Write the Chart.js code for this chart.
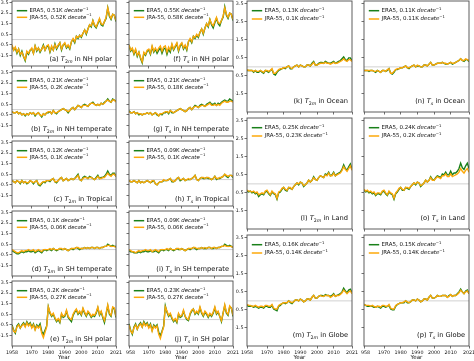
<!DOCTYPE html>
<html>
<head>
<meta charset="utf-8">
<script src="https://cdn.jsdelivr.net/npm/chart.js@4"></script>
<style>
  html, body { margin: 0; padding: 0; background: #fff; }
  #fig { position: relative; width: 474px; height: 361px; overflow: hidden; }
  #fig canvas { position: absolute; }
</style>
</head>
<body>
<div id="fig"></div>
<script>
// years of the annual anomaly series
const YEARS = [1958,1959,1960,1961,1962,1963,1964,1965,1966,1967,1968,1969,
  1970,1971,1972,1973,1974,1975,1976,1977,1978,1979,1980,1981,1982,1983,1984,1985,1986,1987,1988,1989,
  1990,1991,1992,1993,1994,1995,1996,1997,1998,1999,2000,2001,2002,2003,2004,2005,2006,2007,2008,2009,
  2010,2011,2012,2013,2014,2015,2016,2017,2018,2019,2020,2021];
const X_TICKS = [1958, 1970, 1980, 1990, 2000, 2010, 2021];
const Y_TICKS = [-1.5, -0.5, 0.5, 1.5, 2.5, 3.5];
const Y_TICK_LABELS = ['\u22121.5', '\u22120.5', '0.5', '1.5', '2.5', '3.5'];

// (a) T2m NH polar
const era5_a = [-0.6,-1.0,
  -0.8,-1.3,-0.9,-1.5,-1.1,-1.6,-2.0,-1.2,-1.4,-1.0,
  -0.9,-1.3,-0.6,-1.1,-0.8,-1.2,-0.9,-0.5,-1.0,-0.7,
  -0.6,-1.2,-0.7,-1.0,-0.4,-0.9,-0.6,-0.3,-1.0,-0.5,
  -0.4,-0.8,-0.6,-0.9,-0.2,0.0,-0.3,0.3,0.1,0.4,
  0.2,0.6,0.9,0.5,1.0,1.4,1.2,1.8,1.3,1.1,
  1.5,1.9,1.4,1.3,1.7,2.0,3.0,2.2,1.9,2.4,
  2.3,1.7];
const jra55_a = [-0.5,-1.0,
  -0.7,-1.2,-0.9,-1.4,-1.2,-1.6,-1.9,-1.1,-1.3,-1.0,
  -0.8,-1.3,-0.6,-1.0,-0.8,-1.1,-0.9,-0.6,-1.0,-0.6,
  -0.5,-1.1,-0.6,-1.0,-0.5,-0.8,-0.5,-0.3,-0.9,-0.5,
  -0.3,-0.7,-0.5,-0.8,-0.2,0.1,-0.2,0.3,0.2,0.4,
  0.3,0.6,0.9,0.6,1.0,1.4,1.3,1.8,1.4,1.2,
  1.6,2.0,1.5,1.4,1.7,2.1,3.0,2.3,2.0,2.4,
  2.3,1.8];
// (f) Ts NH polar
const era5_f = [-0.5,-1.1,
  -0.9,-1.4,-1.0,-1.6,-1.2,-1.8,-2.2,-1.3,-1.5,-1.1,
  -1.0,-1.4,-0.7,-1.2,-0.9,-1.3,-1.0,-0.8,-1.3,-0.9,
  -0.8,-1.4,-0.9,-1.2,-0.5,-1.0,-0.7,-0.4,-1.1,-0.6,
  -0.4,-0.9,-0.6,-1.0,-0.2,0.0,-0.3,0.3,0.1,0.4,
  0.2,0.7,1.0,0.5,1.1,1.5,1.2,1.9,1.4,1.1,
  1.6,2.0,1.5,1.3,1.8,2.1,3.1,2.3,2.0,2.5,
  2.4,1.8];
const jra55_f = [-0.5,-1.0,
  -0.8,-1.3,-0.9,-1.5,-1.2,-1.7,-2.1,-1.2,-1.4,-1.0,
  -0.9,-1.3,-0.6,-1.1,-0.8,-1.1,-0.8,-0.6,-1.1,-0.7,
  -0.6,-1.2,-0.7,-1.0,-0.4,-0.9,-0.6,-0.3,-1.0,-0.5,
  -0.3,-0.8,-0.5,-0.9,-0.2,0.1,-0.2,0.3,0.2,0.5,
  0.3,0.7,1.0,0.6,1.1,1.5,1.3,1.9,1.5,1.3,
  1.7,2.1,1.6,1.5,1.8,2.2,3.0,2.4,2.1,2.5,
  2.4,1.9];
// (b) T2m NH temperate
const era5_b = [-0.2,-0.3,
  -0.3,-0.2,-0.4,-0.3,-0.5,-0.4,-0.6,-0.4,-0.5,-0.3,
  -0.4,-0.3,-0.6,-0.4,-0.3,-0.5,-0.7,-0.4,-0.5,-0.3,
  -0.3,-0.2,-0.4,-0.1,-0.3,-0.4,-0.2,-0.1,0.0,0.1,
  0.0,-0.1,-0.3,-0.1,0.1,0.2,0.0,0.2,0.4,0.3,
  0.2,0.4,0.5,0.4,0.3,0.5,0.6,0.7,0.5,0.4,
  0.5,0.4,0.6,0.5,0.7,0.8,1.0,0.8,0.7,1.0,
  0.9,0.8];
const jra55_b = [-0.2,-0.3,
  -0.3,-0.2,-0.4,-0.3,-0.5,-0.4,-0.5,-0.4,-0.5,-0.3,
  -0.4,-0.3,-0.5,-0.4,-0.3,-0.5,-0.6,-0.4,-0.5,-0.3,
  -0.2,-0.2,-0.4,-0.1,-0.3,-0.3,-0.2,-0.1,0.0,0.1,
  0.0,-0.1,-0.2,-0.1,0.1,0.2,0.0,0.2,0.4,0.3,
  0.2,0.4,0.4,0.4,0.3,0.5,0.6,0.6,0.5,0.4,
  0.5,0.4,0.6,0.5,0.6,0.8,0.9,0.8,0.7,0.9,
  0.9,0.7];
// (g) Ts NH temperate
const era5_g = [-0.1,-0.3,
  -0.3,-0.2,-0.4,-0.3,-0.5,-0.4,-0.5,-0.4,-0.4,-0.3,
  -0.4,-0.3,-0.5,-0.4,-0.3,-0.5,-0.6,-0.4,-0.5,-0.3,
  -0.3,-0.2,-0.4,-0.1,-0.3,-0.3,-0.2,-0.1,0.0,0.1,
  0.0,-0.1,-0.2,-0.1,0.1,0.2,0.0,0.2,0.4,0.3,
  0.2,0.4,0.5,0.4,0.3,0.5,0.6,0.7,0.5,0.5,
  0.6,0.4,0.6,0.5,0.7,0.8,0.9,0.8,0.8,1.0,
  0.9,0.8];
const jra55_g = [-0.2,-0.3,
  -0.3,-0.2,-0.4,-0.3,-0.4,-0.4,-0.5,-0.4,-0.4,-0.3,
  -0.4,-0.3,-0.5,-0.4,-0.3,-0.4,-0.6,-0.4,-0.4,-0.3,
  -0.2,-0.2,-0.3,-0.1,-0.2,-0.3,-0.2,-0.1,0.0,0.1,
  0.0,-0.1,-0.2,-0.1,0.1,0.2,0.0,0.2,0.3,0.3,
  0.2,0.3,0.4,0.4,0.3,0.4,0.5,0.6,0.4,0.4,
  0.5,0.4,0.5,0.4,0.6,0.7,0.8,0.7,0.7,0.8,
  0.8,0.7];
// (c) T2m Tropical
const era5_c = [-0.1,-0.2,
  -0.3,-0.1,-0.2,-0.4,-0.1,-0.3,-0.2,-0.4,-0.3,-0.1,
  -0.2,-0.4,-0.2,-0.1,-0.5,-0.6,-0.4,-0.2,-0.3,-0.1,
  -0.1,-0.2,0.0,0.1,-0.2,-0.3,-0.1,0.1,0.2,-0.1,
  0.0,0.1,-0.1,0.0,0.1,0.0,0.1,0.3,0.5,0.0,
  -0.1,0.2,0.3,0.2,0.1,0.3,0.2,0.1,0.0,0.2,
  0.4,0.1,0.2,0.2,0.3,0.5,0.8,0.5,0.4,0.6,
  0.6,0.3];
const jra55_c = [-0.1,-0.2,
  -0.3,-0.1,-0.2,-0.3,-0.1,-0.3,-0.2,-0.3,-0.3,-0.1,
  -0.2,-0.3,-0.2,-0.1,-0.4,-0.5,-0.3,-0.2,-0.2,-0.1,
  -0.1,-0.1,0.0,0.1,-0.2,-0.2,-0.1,0.1,0.2,-0.1,
  0.0,0.1,-0.1,0.0,0.1,0.0,0.1,0.2,0.4,0.0,
  -0.1,0.1,0.2,0.2,0.1,0.2,0.2,0.1,0.0,0.1,
  0.3,0.1,0.1,0.2,0.2,0.4,0.6,0.4,0.3,0.5,
  0.5,0.3];
// (h) Ts Tropical
const era5_h = [-0.1,-0.2,
  -0.2,-0.1,-0.2,-0.3,-0.1,-0.3,-0.2,-0.3,-0.2,-0.1,
  -0.2,-0.3,-0.2,-0.1,-0.4,-0.5,-0.3,-0.2,-0.2,-0.1,
  -0.1,-0.1,0.0,0.1,-0.2,-0.2,-0.1,0.1,0.2,-0.1,
  0.0,0.1,-0.1,0.0,0.0,0.0,0.1,0.2,0.4,0.0,
  -0.1,0.1,0.2,0.1,0.1,0.2,0.1,0.1,0.0,0.1,
  0.3,0.0,0.1,0.1,0.2,0.3,0.5,0.3,0.2,0.4,
  0.4,0.2];
const jra55_h = [-0.1,-0.2,
  -0.2,-0.1,-0.2,-0.3,-0.1,-0.3,-0.2,-0.3,-0.2,-0.1,
  -0.2,-0.3,-0.1,-0.1,-0.4,-0.5,-0.3,-0.2,-0.2,0.0,
  -0.1,-0.1,0.0,0.1,-0.1,-0.2,-0.1,0.1,0.2,0.0,
  0.0,0.1,-0.1,0.0,0.1,0.0,0.1,0.2,0.4,0.0,
  -0.1,0.1,0.2,0.2,0.1,0.2,0.2,0.1,0.0,0.1,
  0.3,0.1,0.1,0.2,0.2,0.3,0.5,0.4,0.3,0.4,
  0.4,0.3];
// (d) T2m SH temperate
const era5_d = [-0.1,-0.2,
  -0.3,-0.4,-0.4,-0.3,-0.2,-0.3,-0.2,-0.2,-0.1,-0.2,
  -0.2,-0.1,-0.3,-0.2,-0.1,-0.2,-0.3,-0.1,0.0,-0.1,
  0.0,0.0,-0.1,0.1,0.0,-0.1,0.0,0.1,0.0,0.0,
  0.1,0.0,-0.1,0.0,0.1,0.0,0.1,0.2,0.1,0.0,
  0.1,0.1,0.2,0.1,0.2,0.1,0.2,0.2,0.1,0.2,
  0.2,0.1,0.2,0.2,0.3,0.3,0.5,0.4,0.3,0.4,
  0.3,0.3];
const jra55_d = [0.0,-0.1,
  -0.2,-0.3,-0.3,-0.2,-0.1,-0.2,-0.1,-0.1,0.0,-0.1,
  -0.1,0.0,-0.2,-0.1,0.0,-0.1,-0.2,0.0,0.0,0.0,
  0.0,0.1,0.0,0.1,0.0,0.0,0.0,0.1,0.1,0.0,
  0.1,0.0,-0.1,0.0,0.1,0.1,0.1,0.2,0.2,0.1,
  0.1,0.1,0.2,0.1,0.2,0.1,0.2,0.2,0.1,0.2,
  0.2,0.1,0.2,0.2,0.3,0.3,0.4,0.4,0.3,0.3,
  0.3,0.2];
// (i) Ts SH temperate
const era5_i = [-0.1,-0.2,
  -0.2,-0.3,-0.3,-0.3,-0.2,-0.3,-0.2,-0.2,-0.1,-0.2,
  -0.2,-0.1,-0.2,-0.2,-0.1,-0.2,-0.3,-0.1,0.0,-0.1,
  0.0,0.0,-0.1,0.1,0.0,-0.1,0.0,0.1,0.0,0.0,
  0.1,0.0,-0.1,0.0,0.1,0.0,0.1,0.2,0.1,0.0,
  0.1,0.1,0.2,0.1,0.1,0.1,0.2,0.2,0.1,0.1,
  0.2,0.1,0.2,0.2,0.3,0.3,0.5,0.4,0.3,0.4,
  0.3,0.2];
const jra55_i = [0.0,-0.1,
  -0.2,-0.2,-0.3,-0.2,-0.1,-0.2,-0.1,-0.1,0.0,-0.1,
  -0.1,0.0,-0.2,-0.1,0.0,-0.1,-0.2,0.0,0.0,0.0,
  0.0,0.1,0.0,0.1,0.0,0.0,0.0,0.1,0.1,0.0,
  0.1,0.0,-0.1,0.0,0.1,0.1,0.1,0.2,0.2,0.1,
  0.1,0.1,0.2,0.1,0.2,0.1,0.2,0.2,0.1,0.2,
  0.2,0.1,0.2,0.2,0.3,0.3,0.4,0.3,0.3,0.3,
  0.3,0.2];
// (e) T2m SH polar
const era5_e = [-0.5,-1.0,
  -1.3,-0.6,-0.4,-0.8,-0.5,-0.3,-0.6,-0.2,-0.5,-0.3,
  -0.7,-0.4,-0.9,-0.5,-0.7,-0.4,-1.1,-1.4,-1.0,-0.6,
  1.2,0.6,0.3,0.5,0.1,-0.2,0.0,-0.3,0.5,0.2,
  0.3,0.8,0.2,0.0,-0.2,0.4,0.7,0.9,0.5,0.7,
  0.4,1.0,0.6,0.3,0.7,0.5,0.2,0.4,0.3,0.6,
  1.1,0.4,0.7,0.2,-0.3,0.5,1.3,0.5,0.3,1.1,
  1.0,0.2];
const jra55_e = [-0.6,-1.1,
  -1.2,-0.7,-0.5,-0.8,-0.6,-0.4,-0.7,-0.3,-0.6,-0.4,
  -0.8,-0.5,-1.0,-0.6,-0.8,-0.6,-1.3,-1.7,-1.2,-0.7,
  1.2,0.7,0.4,0.6,0.2,-0.1,0.1,-0.2,0.6,0.3,
  0.4,0.9,0.3,0.1,0.0,0.5,0.8,1.0,0.6,0.8,
  0.5,1.1,0.7,0.4,0.8,0.6,0.3,0.5,0.4,0.7,
  1.2,0.5,0.8,0.3,-0.1,0.6,1.4,0.6,0.4,1.2,
  1.1,0.3];
// (j) Ts SH polar
const era5_j = [-0.4,-1.0,
  -1.4,-0.7,-0.4,-0.9,-0.5,-0.3,-0.7,-0.2,-0.5,-0.3,
  -0.7,-0.4,-1.0,-0.5,-0.7,-0.5,-1.2,-1.5,-1.1,-0.6,
  1.3,0.7,0.3,0.5,0.1,-0.2,0.0,-0.3,0.5,0.2,
  0.3,0.8,0.3,0.0,-0.1,0.5,0.8,1.0,0.5,0.7,
  0.5,1.1,0.6,0.3,0.7,0.5,0.2,0.5,0.3,0.6,
  1.1,0.5,0.7,0.3,-0.2,0.6,1.3,0.6,0.4,1.2,
  1.1,0.3];
const jra55_j = [-0.5,-1.1,
  -1.3,-0.8,-0.5,-0.9,-0.6,-0.4,-0.7,-0.3,-0.6,-0.4,
  -0.8,-0.5,-1.1,-0.6,-0.8,-0.6,-1.4,-1.8,-1.2,-0.7,
  1.2,0.8,0.4,0.6,0.2,-0.1,0.1,-0.2,0.6,0.3,
  0.4,0.9,0.3,0.1,0.0,0.6,0.9,1.0,0.6,0.8,
  0.6,1.2,0.7,0.4,0.8,0.6,0.3,0.6,0.4,0.7,
  1.2,0.6,0.8,0.3,-0.1,0.6,1.4,0.7,0.5,1.3,
  1.1,0.4];
// (k) T2m Ocean
const era5_k = [-0.2,-0.2,
  -0.2,-0.2,-0.3,-0.2,-0.3,-0.3,-0.2,-0.3,-0.35,-0.2,
  -0.25,-0.3,-0.2,-0.15,-0.4,-0.45,-0.3,-0.2,-0.15,-0.1,
  -0.05,-0.1,0.0,0.05,-0.1,-0.1,0.0,0.05,0.1,0.0,
  0.1,0.05,0.0,0.0,0.1,0.1,0.05,0.2,0.3,0.1,
  0.1,0.2,0.25,0.25,0.2,0.3,0.25,0.2,0.2,0.25,
  0.3,0.2,0.25,0.3,0.35,0.45,0.55,0.4,0.35,0.5,
  0.5,0.35];
const jra55_k = [-0.15,-0.2,
  -0.2,-0.2,-0.25,-0.2,-0.25,-0.25,-0.2,-0.25,-0.3,-0.2,
  -0.2,-0.25,-0.2,-0.1,-0.35,-0.35,-0.25,-0.15,-0.1,-0.1,
  -0.05,-0.05,0.0,0.05,-0.05,-0.1,0.0,0.05,0.1,0.0,
  0.1,0.05,0.0,0.0,0.1,0.1,0.05,0.15,0.25,0.1,
  0.1,0.15,0.2,0.2,0.2,0.25,0.2,0.2,0.15,0.2,
  0.25,0.2,0.2,0.25,0.3,0.35,0.45,0.35,0.3,0.4,
  0.4,0.3];
// (n) Ts Ocean
const era5_n = [-0.2,-0.2,
  -0.2,-0.25,-0.2,-0.2,-0.25,-0.3,-0.2,-0.25,-0.3,-0.2,
  -0.2,-0.25,-0.2,-0.1,-0.35,-0.4,-0.3,-0.15,-0.15,-0.1,
  -0.05,-0.05,0.0,0.05,-0.05,-0.1,0.0,0.05,0.1,0.0,
  0.05,0.05,0.0,0.0,0.1,0.1,0.05,0.15,0.25,0.1,
  0.1,0.15,0.2,0.2,0.2,0.25,0.2,0.15,0.15,0.2,
  0.25,0.15,0.2,0.25,0.3,0.35,0.45,0.35,0.3,0.4,
  0.4,0.3];
const jra55_n = [-0.2,-0.2,
  -0.2,-0.2,-0.2,-0.2,-0.25,-0.25,-0.2,-0.25,-0.3,-0.2,
  -0.2,-0.25,-0.15,-0.1,-0.35,-0.35,-0.25,-0.15,-0.1,-0.1,
  -0.05,-0.05,0.0,0.05,-0.05,-0.05,0.0,0.05,0.1,0.0,
  0.1,0.05,0.0,0.0,0.1,0.1,0.05,0.15,0.25,0.1,
  0.1,0.15,0.2,0.2,0.2,0.25,0.2,0.2,0.15,0.2,
  0.25,0.2,0.2,0.25,0.3,0.35,0.45,0.35,0.35,0.45,
  0.4,0.35];
// (l) T2m Land
const era5_l = [-0.4,-0.45,
  -0.4,-0.5,-0.45,-0.55,-0.5,-0.7,-0.6,-0.55,-0.6,-0.45,
  -0.4,-0.55,-0.65,-0.45,-0.55,-0.6,-0.85,-0.5,-0.45,-0.3,
  -0.2,-0.35,-0.4,-0.2,-0.25,-0.3,-0.15,-0.05,0.05,-0.05,
  0.1,0.05,-0.15,-0.05,0.05,0.2,0.1,0.2,0.4,0.25,
  0.2,0.35,0.45,0.4,0.35,0.55,0.5,0.65,0.45,0.5,
  0.65,0.45,0.55,0.6,0.65,0.8,1.05,0.85,0.75,0.95,
  1.1,0.8];
const jra55_l = [-0.35,-0.4,
  -0.4,-0.45,-0.4,-0.5,-0.45,-0.6,-0.55,-0.5,-0.55,-0.4,
  -0.35,-0.5,-0.6,-0.4,-0.5,-0.55,-0.8,-0.45,-0.4,-0.25,
  -0.2,-0.3,-0.35,-0.2,-0.2,-0.3,-0.15,-0.05,0.05,0.0,
  0.1,0.05,-0.1,-0.05,0.05,0.2,0.1,0.2,0.35,0.25,
  0.2,0.35,0.45,0.4,0.35,0.5,0.45,0.6,0.45,0.45,
  0.6,0.45,0.5,0.55,0.6,0.75,0.95,0.8,0.7,0.85,
  1.0,0.75];
// (o) Ts Land
const era5_o = [-0.35,-0.45,
  -0.4,-0.5,-0.45,-0.55,-0.5,-0.65,-0.55,-0.55,-0.6,-0.45,
  -0.4,-0.55,-0.65,-0.45,-0.55,-0.6,-0.85,-0.55,-0.45,-0.3,
  -0.2,-0.35,-0.35,-0.2,-0.25,-0.3,-0.15,-0.05,0.05,-0.05,
  0.1,0.05,-0.15,-0.05,0.05,0.2,0.1,0.2,0.4,0.25,
  0.2,0.35,0.45,0.4,0.35,0.55,0.5,0.65,0.5,0.5,
  0.7,0.5,0.6,0.6,0.7,0.85,1.15,0.9,0.8,1.0,
  1.15,0.85];
const jra55_o = [-0.3,-0.4,
  -0.35,-0.45,-0.4,-0.5,-0.45,-0.6,-0.5,-0.5,-0.55,-0.4,
  -0.35,-0.5,-0.6,-0.4,-0.5,-0.55,-0.8,-0.5,-0.4,-0.25,
  -0.2,-0.3,-0.35,-0.2,-0.2,-0.25,-0.15,-0.05,0.05,0.0,
  0.1,0.05,-0.1,-0.05,0.05,0.2,0.1,0.2,0.35,0.2,
  0.2,0.3,0.4,0.35,0.3,0.45,0.45,0.55,0.4,0.4,
  0.55,0.4,0.45,0.5,0.55,0.65,0.85,0.7,0.6,0.75,
  0.85,0.65];
// (m) T2m Globe
const era5_m = [-0.25,-0.3,
  -0.3,-0.3,-0.35,-0.3,-0.35,-0.4,-0.35,-0.35,-0.4,-0.3,
  -0.3,-0.35,-0.35,-0.25,-0.45,-0.5,-0.55,-0.3,-0.25,-0.15,
  -0.1,-0.15,-0.1,0.0,-0.1,-0.15,-0.05,0.05,0.05,0.0,
  0.1,0.05,-0.05,0.0,0.1,0.1,0.05,0.2,0.3,0.15,
  0.15,0.25,0.3,0.3,0.25,0.35,0.3,0.3,0.25,0.3,
  0.4,0.25,0.3,0.35,0.4,0.5,0.7,0.55,0.45,0.6,
  0.65,0.45];
const jra55_m = [-0.2,-0.25,
  -0.25,-0.3,-0.3,-0.25,-0.3,-0.35,-0.3,-0.3,-0.35,-0.25,
  -0.25,-0.3,-0.3,-0.2,-0.4,-0.45,-0.45,-0.25,-0.2,-0.15,
  -0.1,-0.1,-0.1,0.0,-0.05,-0.1,-0.05,0.05,0.05,0.0,
  0.1,0.05,-0.05,0.0,0.1,0.1,0.05,0.2,0.3,0.15,
  0.15,0.25,0.3,0.25,0.25,0.3,0.3,0.3,0.2,0.25,
  0.35,0.25,0.3,0.3,0.35,0.45,0.6,0.5,0.4,0.5,
  0.55,0.4];
// (p) Ts Globe
const era5_p = [-0.2,-0.25,
  -0.3,-0.3,-0.3,-0.3,-0.35,-0.35,-0.3,-0.35,-0.4,-0.3,
  -0.3,-0.35,-0.3,-0.25,-0.45,-0.5,-0.5,-0.3,-0.2,-0.15,
  -0.1,-0.1,-0.1,0.0,-0.1,-0.1,-0.05,0.05,0.05,0.0,
  0.1,0.05,-0.05,0.0,0.1,0.1,0.05,0.2,0.3,0.15,
  0.15,0.2,0.3,0.25,0.25,0.3,0.3,0.3,0.2,0.3,
  0.35,0.25,0.3,0.3,0.4,0.5,0.65,0.5,0.4,0.55,
  0.6,0.4];
const jra55_p = [-0.2,-0.25,
  -0.25,-0.25,-0.3,-0.25,-0.3,-0.35,-0.3,-0.3,-0.35,-0.25,
  -0.25,-0.3,-0.3,-0.2,-0.4,-0.45,-0.45,-0.25,-0.2,-0.15,
  -0.1,-0.1,-0.05,0.0,-0.05,-0.1,-0.05,0.05,0.05,0.0,
  0.1,0.05,-0.05,0.0,0.1,0.1,0.05,0.2,0.3,0.15,
  0.15,0.2,0.3,0.25,0.25,0.3,0.3,0.3,0.2,0.25,
  0.35,0.25,0.3,0.3,0.35,0.45,0.6,0.5,0.4,0.5,
  0.55,0.4];

// trend text per panel [ERA5, JRA-55] in K/decade
const trends = {
  a: ['0.51', '0.52'], f: ['0.55', '0.58'],
  b: ['0.21', '0.2'],  g: ['0.21', '0.18'],
  c: ['0.12', '0.1'],  h: ['0.09', '0.1'],
  d: ['0.1', '0.06'],  i: ['0.09', '0.06'],
  e: ['0.2', '0.27'],  j: ['0.23', '0.27'],
  k: ['0.13', '0.1'],  n: ['0.11', '0.11'],
  l: ['0.25', '0.23'], o: ['0.24', '0.2'],
  m: ['0.16', '0.14'], p: ['0.15', '0.14']
};

const GREEN = '#198019';
const ORANGE = '#fca80a';
const FRAME = '#4d4d4d';
const TXT = '#111';
const FONT = '"DejaVu Sans", sans-serif';

// panel list: group (left 5 rows / right 3 rows), column, row
const panels = [
  { id: 'a', v: '2m', reg: 'NH polar',     g: 0, col: 0, row: 0, era: era5_a, jra: jra55_a },
  { id: 'b', v: '2m', reg: 'NH temperate', g: 0, col: 0, row: 1, era: era5_b, jra: jra55_b },
  { id: 'c', v: '2m', reg: 'Tropical',     g: 0, col: 0, row: 2, era: era5_c, jra: jra55_c },
  { id: 'd', v: '2m', reg: 'SH temperate', g: 0, col: 0, row: 3, era: era5_d, jra: jra55_d },
  { id: 'e', v: '2m', reg: 'SH polar',     g: 0, col: 0, row: 4, era: era5_e, jra: jra55_e },
  { id: 'f', v: 's',  reg: 'NH polar',     g: 0, col: 1, row: 0, era: era5_f, jra: jra55_f },
  { id: 'g', v: 's',  reg: 'NH temperate', g: 0, col: 1, row: 1, era: era5_g, jra: jra55_g },
  { id: 'h', v: 's',  reg: 'Tropical',     g: 0, col: 1, row: 2, era: era5_h, jra: jra55_h },
  { id: 'i', v: 's',  reg: 'SH temperate', g: 0, col: 1, row: 3, era: era5_i, jra: jra55_i },
  { id: 'j', v: 's',  reg: 'SH polar',     g: 0, col: 1, row: 4, era: era5_j, jra: jra55_j },
  { id: 'k', v: '2m', reg: 'Ocean',        g: 1, col: 0, row: 0, era: era5_k, jra: jra55_k },
  { id: 'l', v: '2m', reg: 'Land',         g: 1, col: 0, row: 1, era: era5_l, jra: jra55_l },
  { id: 'm', v: '2m', reg: 'Globe',        g: 1, col: 0, row: 2, era: era5_m, jra: jra55_m },
  { id: 'n', v: 's',  reg: 'Ocean',        g: 1, col: 1, row: 0, era: era5_n, jra: jra55_n },
  { id: 'o', v: 's',  reg: 'Land',         g: 1, col: 1, row: 1, era: era5_o, jra: jra55_o },
  { id: 'p', v: 's',  reg: 'Globe',        g: 1, col: 1, row: 2, era: era5_p, jra: jra55_p }
];

// plot-box geometry of the two panel groups
const GROUPS = [
  { cols: [12, 129], w: 104, tops: [1, 71, 141, 211, 281], h: 65 },
  { cols: [247, 364], w: 105, tops: [1, 118, 235], h: 111 }
];

// draw a run of text pieces (normal / italic / sub / sup)
function pieceFont(s, size) {
  const sz = (s.sub || s.sup) ? size * 0.7 : size;
  return (s.it ? 'italic ' : '') + sz + 'px ' + FONT;
}
function runWidth(ctx, segs, size) {
  let w = 0;
  segs.forEach(s => { ctx.font = pieceFont(s, size); w += ctx.measureText(s.t).width; });
  return w;
}
function drawRun(ctx, segs, x, y, size) {
  ctx.textBaseline = 'middle';
  ctx.textAlign = 'left';
  ctx.fillStyle = TXT;
  segs.forEach(s => {
    ctx.font = pieceFont(s, size);
    let dy = 0;
    if (s.sub) dy = size * 0.3;
    if (s.sup) dy = -size * 0.38;
    ctx.fillText(s.t, x, y + dy);
    x += ctx.measureText(s.t).width;
  });
}

const deco = {
  id: 'deco',
  beforeDatasetsDraw(chart) {
    const { ctx, chartArea: ca } = chart;
    const y0 = chart.scales.y.getPixelForValue(0);
    ctx.save();
    ctx.strokeStyle = '#c4c4c4';
    ctx.lineWidth = 0.8;
    ctx.beginPath();
    ctx.moveTo(ca.left, y0);
    ctx.lineTo(ca.right, y0);
    ctx.stroke();
    ctx.restore();
  },
  afterDatasetsDraw(chart) {
    const { ctx, chartArea: ca } = chart;
    ctx.save();
    ctx.strokeStyle = FRAME;
    ctx.lineWidth = 0.9;
    ctx.strokeRect(ca.left, ca.top, ca.right - ca.left, ca.bottom - ca.top);
    ctx.restore();
  },
  afterDraw(chart) {
    const p = chart.options.plugins.deco.panel;
    const { ctx, chartArea: ca } = chart;
    const tr = trends[p.id];
    const big = p.g === 1;
    ctx.save();
    // legend
    const rows = [
      { c: GREEN, segs: [{ t: 'ERA5, ' + tr[0] + 'K ' }, { t: 'decate', it: 1 }, { t: '\u22121', sup: 1 }] },
      { c: ORANGE, segs: [{ t: 'JRA-55, ' + tr[1] + 'K ' }, { t: 'decate', it: 1 }, { t: '\u22121', sup: 1 }] }
    ];
    const lsz = big ? 5.5 : 5.4;
    rows.forEach((r, k) => {
      const y = ca.top + 9.7 + k * (big ? 8.3 : 6.6);
      ctx.strokeStyle = r.c;
      ctx.lineWidth = 1.5;
      ctx.beginPath();
      ctx.moveTo(ca.left + 4.8, y);
      ctx.lineTo(ca.left + 15.2, y);
      ctx.stroke();
      drawRun(ctx, r.segs, ca.left + 17.6, y, lsz);
    });
    // panel label
    const lab = [{ t: '(' + p.id + ') ' }, { t: 'T', it: 1 }];
    if (p.v === '2m') { lab.push({ t: '2', sub: 1 }); lab.push({ t: 'm', sub: 1, it: 1 }); }
    else lab.push({ t: 's', sub: 1, it: 1 });
    lab.push({ t: ' in ' + p.reg });
    const lsz2 = 6.7;
    const w = runWidth(ctx, lab, lsz2);
    drawRun(ctx, lab, ca.right - 4 - w, ca.bottom - (big ? 10.5 : 6.5), lsz2);
    ctx.restore();
  }
};

const fig = document.getElementById('fig');

panels.forEach(p => {
  const G = GROUPS[p.g];
  const bx = G.cols[p.col], by = G.tops[p.row], bw = G.w, bh = G.h;
  const showY = p.col === 0;
  const showX = p.row === G.tops.length - 1;
  const padL = showY ? 12 : 3, padR = 6, padT = 4, padB = showX ? 15 : 3;

  const cv = document.createElement('canvas');
  cv.width = padL + bw + padR;
  cv.height = padT + bh + padB;
  cv.style.left = (bx - padL) + 'px';
  cv.style.top = (by - padT) + 'px';
  cv.style.width = cv.width + 'px';
  cv.style.height = cv.height + 'px';
  fig.appendChild(cv);

  new Chart(cv, {
    type: 'line',
    data: {
      datasets: [
        { label: 'JRA-55', data: YEARS.map((x, i) => ({ x: x, y: p.jra[i] })), borderColor: ORANGE, order: 1 },
        { label: 'ERA5', data: YEARS.map((x, i) => ({ x: x, y: p.era[i] })), borderColor: GREEN, order: 2 }
      ]
    },
    options: {
      responsive: false,
      animation: false,
      devicePixelRatio: 1,
      layout: { padding: { top: padT, right: padR, left: 0, bottom: 0 } },
      elements: {
        point: { radius: 0 },
        line: { borderWidth: 1.4, tension: 0, fill: false }
      },
      plugins: {
        legend: { display: false },
        tooltip: { enabled: false },
        deco: { panel: p }
      },
      scales: {
        x: {
          type: 'linear', min: 1958, max: 2021,
          afterBuildTicks: s => { s.ticks = X_TICKS.map(v => ({ value: v })); },
          afterFit: s => { s.height = padB; s.paddingLeft = 0; s.paddingRight = 0; },
          border: { display: false },
          grid: { drawOnChartArea: false, drawTicks: true, tickLength: 2.5, color: FRAME, tickWidth: 0.8 },
          ticks: {
            display: showX, autoSkip: false, maxRotation: 0, minRotation: 0, padding: 1,
            color: TXT, font: { family: FONT, size: 4.8 },
            callback: v => String(v)
          },
          title: {
            display: showX, text: 'Year', color: TXT,
            padding: { top: 0, bottom: 0.5 },
            font: { family: FONT, size: 5.6 }
          }
        },
        y: {
          min: -2.5, max: 3.65,
          afterBuildTicks: s => { s.ticks = Y_TICKS.map(v => ({ value: v })); },
          afterFit: s => { s.width = padL; s.paddingTop = 0; s.paddingBottom = 0; },
          border: { display: false },
          grid: { drawOnChartArea: false, drawTicks: true, tickLength: 2.5, color: FRAME, tickWidth: 0.8 },
          ticks: {
            display: showY, padding: 1, color: TXT,
            font: { family: FONT, size: 4.8 },
            callback: v => Y_TICK_LABELS[Y_TICKS.indexOf(v)]
          }
        }
      }
    },
    plugins: [deco]
  });
});
</script>
</body>
</html>
